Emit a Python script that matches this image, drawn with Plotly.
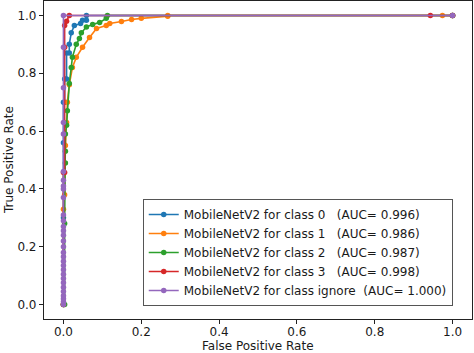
import plotly.graph_objects as go

# ---- data ----
names = [
    "MobileNetV2 for class 0\u00a0\u00a0\u00a0(AUC= 0.996)",
    "MobileNetV2 for class 1\u00a0\u00a0\u00a0(AUC= 0.986)",
    "MobileNetV2 for class 2\u00a0\u00a0\u00a0(AUC= 0.987)",
    "MobileNetV2 for class 3\u00a0\u00a0\u00a0(AUC= 0.998)",
    "MobileNetV2 for class ignore\u00a0\u00a0(AUC= 1.000)",
]
colors = ["#1f77b4", "#ff7f0e", "#2ca02c", "#d62728", "#9467bd"]

fpr0 = [0, 0, 0, 0, 0.003, 0.003, 0.008, 0.008, 0.015, 0.015, 0.02, 0.028, 0.044, 0.049, 0.059, 0.059, 1.0]
tpr0 = [0, 0.3, 0.56, 0.70, 0.70, 0.78, 0.78, 0.87, 0.87, 0.90, 0.94, 0.965, 0.972, 0.983, 0.983, 1.0, 1.0]

fpr1 = [0, 0, 0.003, 0.005, 0.008, 0.01, 0.015, 0.023, 0.033, 0.049, 0.067, 0.085, 0.11, 0.119, 0.149, 0.175, 0.2, 0.268, 0.268, 0.974, 1.0]
tpr1 = [0, 0.33, 0.38, 0.55, 0.63, 0.70, 0.76, 0.82, 0.855, 0.89, 0.924, 0.955, 0.965, 0.972, 0.979, 0.986, 0.99, 0.997, 1.0, 1.0, 1.0]

fpr2 = [0, 0.003, 0.003, 0.005, 0.005, 0.005, 0.008, 0.01, 0.015, 0.02, 0.023, 0.033, 0.041, 0.046, 0.059, 0.075, 0.093, 0.11, 0.113, 1.0]
tpr2 = [0, 0, 0.28, 0.49, 0.53, 0.59, 0.62, 0.67, 0.765, 0.82, 0.855, 0.90, 0.92, 0.94, 0.96, 0.969, 0.976, 0.99, 1.0, 1.0]

fpr3 = [0, 0, 0.003, 0.003, 0.003, 0.008, 0.015, 0.943, 1.0]
tpr3 = [0, 0.457, 0.457, 0.89, 0.965, 0.98, 1.0, 1.0, 1.0]

tpr4 = [0, 0.01, 0.02, 0.03, 0.045, 0.06, 0.075, 0.09, 0.105, 0.12, 0.135, 0.15,
        0.165, 0.18, 0.2, 0.22, 0.24, 0.255, 0.27, 0.29, 0.31, 0.37, 0.40, 0.41,
        0.43, 0.46, 0.59, 0.63, 0.75, 0.89, 1.0, 1.0]
fpr4 = [0] * 31 + [1.0]

fprs = [fpr0, fpr1, fpr2, fpr3, fpr4]
tprs = [tpr0, tpr1, tpr2, tpr3, tpr4]

xticks = [0, 0.2, 0.4, 0.6, 0.8, 1.0]
yticks = [0, 0.2, 0.4, 0.6, 0.8, 1.0]

fig = go.Figure()
for f, t, n, c in zip(fprs, tprs, names, colors):
    fig.add_trace(go.Scatter(
        x=f, y=t, name=n, mode="lines+markers",
        line=dict(color=c, width=1.6),
        marker=dict(color=c, size=5.5),
    ))

font = dict(family="DejaVu Sans", size=12, color="#1a1a1a")
axis_common = dict(
    showgrid=False, zeroline=False, showline=True, mirror=True,
    linecolor="#222222", linewidth=1.2, ticks="outside", ticklen=4,
    tickcolor="#222222", tickwidth=1, tickformat=".1f", tickfont=font,
)
fig.update_layout(
    width=474, height=353,
    margin=dict(l=44, r=2, t=1, b=34),
    paper_bgcolor="white", plot_bgcolor="white",
    font=font,
    showlegend=True,
    legend=dict(
        x=0.955, y=0.041, xanchor="right", yanchor="bottom",
        bgcolor="white", bordercolor="#555555", borderwidth=1,
        font=font, tracegroupgap=0,
    ),
    xaxis=dict(range=[-0.05, 1.05], tickvals=xticks, ticklabelstandoff=-3,
               **axis_common),
    yaxis=dict(range=[-0.05, 1.05], tickvals=yticks, **axis_common),
    annotations=[
        dict(text="False Positive Rate", xref="paper", yref="paper",
             x=0.5, y=(319 - 337) / 318, xanchor="center", yanchor="top",
             showarrow=False, font=font),
        dict(text="True Positive Rate", xref="paper", yref="paper",
             x=(9 - 44) / 428, y=0.5, xanchor="center", yanchor="middle",
             textangle=-90, showarrow=False, font=font),
    ],
)

fig.write_html("out.html")
